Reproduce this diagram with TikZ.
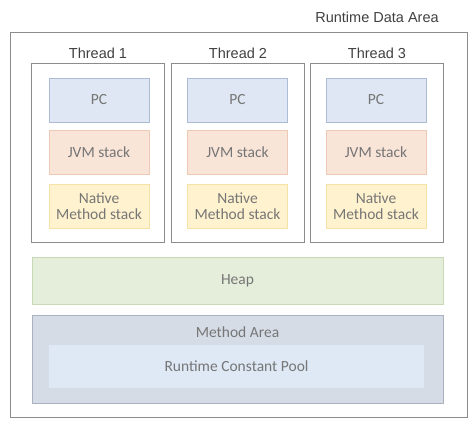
\documentclass[tikz,border=0pt]{standalone}
\usepackage{fontspec}
\setmainfont{Liberation Sans}
\newfontfamily\boxfont{Carlito}
\definecolor{framegray}{RGB}{140,140,140}
\definecolor{titlegray}{RGB}{64,64,64}
\definecolor{labelgray}{RGB}{118,118,118}
\definecolor{pcfill}{RGB}{222,231,243}
\definecolor{pcline}{RGB}{172,188,212}
\definecolor{jvmfill}{RGB}{249,228,216}
\definecolor{jvmline}{RGB}{238,202,182}
\definecolor{natfill}{RGB}{255,242,206}
\definecolor{natline}{RGB}{246,226,166}
\definecolor{heapfill}{RGB}{229,238,219}
\definecolor{heapline}{RGB}{200,217,182}
\definecolor{methfill}{RGB}{214,220,230}
\definecolor{methline}{RGB}{170,177,192}
\definecolor{poolfill}{RGB}{222,233,245}
\tikzset{
  frame/.style={draw=framegray, line width=1pt, inner sep=0pt},
  title/.style={text=titlegray, font=\fontsize{14.5}{17}\selectfont},
  area/.style={line width=0.8pt, inner sep=0pt, align=center, text=labelgray,
    font=\boxfont\fontsize{15.5}{16.5}\selectfont},
  pcbox/.style={area, draw=pcline, fill=pcfill, minimum width=100pt, minimum height=44pt},
  jvmbox/.style={area, draw=jvmline, fill=jvmfill, minimum width=100pt, minimum height=44pt},
  natbox/.style={area, draw=natline, fill=natfill, minimum width=100pt, minimum height=44pt}
}
\begin{document}
\begin{tikzpicture}[x=1pt,y=-1pt]
\useasboundingbox (0,0) rectangle (474,427);
\node[title] (rdatitle) at (377,17) {Runtime Data Area};
\node[frame, minimum width=457pt, minimum height=385pt] (rda) at (238.5,225.5) {};

% threads
\node[frame, minimum width=133pt, minimum height=179pt] (t1) at (98,153.5) {};
\node[title] (t1title) at (98,53) {Thread 1};
\node[pcbox] (t1pc) at (99,100) {PC};
\node[jvmbox] (t1jvm) at (99,152) {JVM stack};
\node[natbox] (t1nat) at (99,206) {Native\\Method stack};

\node[frame, minimum width=133pt, minimum height=179pt] (t2) at (238,153.5) {};
\node[title] (t2title) at (238,53) {Thread 2};
\node[pcbox] (t2pc) at (237.5,100) {PC};
\node[jvmbox] (t2jvm) at (237.5,152) {JVM stack};
\node[natbox] (t2nat) at (237.5,206) {Native\\Method stack};

\node[frame, minimum width=133pt, minimum height=179pt] (t3) at (377,153.5) {};
\node[title] (t3title) at (377,53) {Thread 3};
\node[pcbox] (t3pc) at (376,100) {PC};
\node[jvmbox] (t3jvm) at (376,152) {JVM stack};
\node[natbox] (t3nat) at (376,206) {Native\\Method stack};

% shared areas
\node[area, draw=heapline, fill=heapfill, minimum width=411pt, minimum height=47pt] (heap) at (237.5,280.5) {Heap};
\node[area, draw=methline, fill=methfill, minimum width=411pt, minimum height=88pt] (meth) at (237.5,359) {};
\node[area] (methtitle) at (237.5,332) {Method Area};
\node[area, fill=poolfill, minimum width=375pt, minimum height=43pt] (pool) at (236.5,366.5) {Runtime Constant Pool};
\end{tikzpicture}
\end{document}
